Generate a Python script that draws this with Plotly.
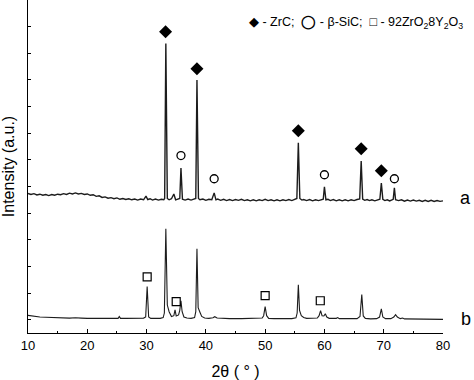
import plotly.graph_objects as go

# ---------------- data ----------------
two_theta_a = [
    10.0, 10.5, 11.0, 11.5, 12.0, 12.5, 13.0, 13.5, 14.0, 14.5, 15.0, 15.5, 16.0, 16.5,
    17.0, 17.5, 18.0, 18.5, 19.0, 19.5, 20.0, 20.5, 21.0, 21.5, 22.0, 22.5, 23.0, 23.5,
    24.0, 24.5, 25.0, 25.5, 26.0, 26.5, 27.0, 27.5, 28.0, 28.5, 29.0, 29.5, 29.9, 30.2,
    30.6, 31.0, 31.5, 32.0, 32.5, 32.9, 33.05, 33.25, 33.5, 33.8, 34.2, 34.6, 34.9, 35.3,
    35.6, 35.8, 36.05, 36.5, 37.0, 37.5, 38.0, 38.3, 38.5, 38.75, 39.0, 39.5, 40.0, 40.5,
    41.0, 41.4, 41.7, 42.0, 42.5, 43.0, 43.5, 44.0, 44.5, 45.0, 45.5, 46.0, 46.5, 47.0,
    47.5, 48.0, 48.5, 49.0, 49.5, 50.0, 50.5, 51.0, 51.5, 52.0, 52.5, 53.0, 53.5, 54.0,
    54.5, 55.0, 55.35, 55.6, 55.85, 56.2, 56.5, 57.0, 57.5, 58.0, 58.5, 59.0, 59.5, 59.8,
    60.0, 60.25, 60.6, 61.0, 61.5, 62.0, 62.5, 63.0, 63.5, 64.0, 64.5, 65.0, 65.5, 65.95,
    66.2, 66.45, 66.8, 67.2, 67.6, 68.0, 68.5, 69.0, 69.35, 69.6, 69.85, 70.2, 70.6, 71.0,
    71.4, 71.6, 71.8, 72.0, 72.5, 73.0, 73.5, 74.0, 74.5, 75.0, 75.5, 76.0, 76.5, 77.0,
    77.5, 78.0, 78.5, 79.0, 79.5, 80.0,
]
intensity_a = [
    4.74, 4.70, 4.73, 4.68, 4.71, 4.67, 4.70, 4.66, 4.70, 4.67, 4.71, 4.69, 4.73, 4.70,
    4.75, 4.72, 4.76, 4.72, 4.74, 4.70, 4.72, 4.67, 4.69, 4.63, 4.65, 4.59, 4.61, 4.56,
    4.58, 4.54, 4.57, 4.52, 4.55, 4.51, 4.54, 4.50, 4.53, 4.49, 4.53, 4.50, 4.64, 4.51,
    4.54, 4.49, 4.53, 4.49, 4.52, 4.50, 4.55, 10.37, 4.55, 4.50, 4.54, 4.72, 4.50, 4.53,
    4.55, 5.69, 4.52, 4.49, 4.53, 4.49, 4.52, 4.55, 9.00, 4.55, 4.50, 4.53, 4.48, 4.52,
    4.50, 4.76, 4.50, 4.53, 4.48, 4.52, 4.47, 4.51, 4.47, 4.51, 4.48, 4.52, 4.47, 4.50,
    4.46, 4.50, 4.46, 4.50, 4.47, 4.52, 4.47, 4.50, 4.46, 4.50, 4.46, 4.50, 4.47, 4.51,
    4.47, 4.50, 4.55, 6.64, 4.55, 4.49, 4.51, 4.47, 4.51, 4.46, 4.50, 4.47, 4.50, 4.52,
    4.99, 4.50, 4.52, 4.47, 4.51, 4.46, 4.50, 4.46, 4.50, 4.46, 4.50, 4.47, 4.51, 4.53,
    5.96, 4.53, 4.48, 4.51, 4.47, 4.50, 4.46, 4.50, 4.52, 5.13, 4.52, 4.47, 4.50, 4.46,
    4.50, 4.52, 4.95, 4.50, 4.47, 4.50, 4.45, 4.49, 4.45, 4.49, 4.45, 4.48, 4.44, 4.48,
    4.44, 4.48, 4.44, 4.47, 4.44, 4.46,
]

two_theta_b = [
    10.0, 10.5, 11.0, 12.0, 13.0, 14.0, 15.0, 16.0, 17.0, 18.0, 18.3, 19.0, 20.0, 21.0,
    22.0, 23.0, 24.0, 25.2, 25.4, 25.6, 26.5, 27.5, 28.5, 29.5, 29.85, 30.1, 30.35, 30.7,
    31.5, 32.3, 32.8, 33.0, 33.25, 33.5, 33.8, 34.2, 34.6, 34.8, 35.0, 35.4, 35.6, 35.8,
    36.0, 36.3, 36.8, 37.5, 38.1, 38.3, 38.5, 38.7, 39.0, 39.3, 39.8, 40.5, 41.2, 41.5,
    41.9, 42.5, 44.0, 46.0, 47.0, 48.0, 49.5, 49.75, 50.0, 50.25, 50.6, 51.5, 53.0, 54.5,
    55.2, 55.4, 55.6, 55.8, 56.1, 56.5, 57.0, 58.0, 58.8, 59.1, 59.35, 59.6, 59.9, 60.15,
    60.4, 60.8, 61.5, 62.0, 62.25, 62.5, 63.5, 64.5, 65.5, 66.0, 66.3, 66.55, 66.9, 67.8,
    68.8, 69.3, 69.6, 69.85, 70.3, 71.2, 71.7, 72.0, 72.3, 72.8, 73.2, 73.5, 75.0, 77.0,
    78.5, 80.0,
]
intensity_b = [
    0.16, 0.14, 0.12, 0.10, 0.09, 0.08, 0.07, 0.07, 0.06, 0.07, 0.06, 0.06, 0.05, 0.05,
    0.05, 0.05, 0.05, 0.05, 0.12, 0.05, 0.05, 0.05, 0.05, 0.06, 0.10, 1.24, 0.10, 0.05,
    0.05, 0.05, 0.08, 0.25, 3.41, 0.55, 0.30, 0.12, 0.15, 0.37, 0.14, 0.18, 0.35, 0.71,
    0.30, 0.10, 0.06, 0.05, 0.08, 0.30, 2.66, 0.45, 0.28, 0.12, 0.06, 0.05, 0.07, 0.11,
    0.06, 0.05, 0.04, 0.04, 0.05, 0.04, 0.06, 0.15, 0.49, 0.15, 0.05, 0.04, 0.04, 0.04,
    0.07, 0.25, 1.31, 0.35, 0.15, 0.08, 0.05, 0.04, 0.06, 0.15, 0.34, 0.15, 0.14, 0.22,
    0.10, 0.05, 0.04, 0.05, 0.08, 0.04, 0.04, 0.03, 0.04, 0.12, 0.94, 0.14, 0.05, 0.03,
    0.04, 0.10, 0.41, 0.10, 0.04, 0.04, 0.10, 0.19, 0.10, 0.04, 0.06, 0.03, 0.03, 0.02,
    0.02, 0.01,
]

# phase markers
zrc_x = [33.2, 38.5, 55.6, 66.2, 69.6]
zrc_y = [10.81, 9.42, 7.09, 6.42, 5.59]
sic_x = [35.8, 41.4, 60.0, 71.8]
sic_y = [6.16, 5.29, 5.44, 5.29]
zro2_x = [30.1, 35.0, 50.0, 59.3]
zro2_y = [1.61, 0.68, 0.90, 0.71]

curve_labels = ["a", "b"]
curve_label_y = [4.58, 0.04]

x_ticks = [10, 20, 30, 40, 50, 60, 70, 80]
y_ticks = list(range(0, 13))

# ---------------- figure ----------------
line_col = "#1c1c1c"
fig = go.Figure()
fig.add_trace(go.Scatter(x=two_theta_a, y=intensity_a, mode="lines",
                         line=dict(color=line_col, width=1.4), showlegend=False))
fig.add_trace(go.Scatter(x=two_theta_b, y=intensity_b, mode="lines",
                         line=dict(color=line_col, width=1.1), showlegend=False))
fig.add_trace(go.Scatter(x=zrc_x, y=zrc_y, mode="markers",
                         marker=dict(symbol="diamond", size=10, color="black"),
                         showlegend=False))
fig.add_trace(go.Scatter(x=sic_x, y=sic_y, mode="markers",
                         marker=dict(symbol="circle-open", size=8, color="black",
                                     line=dict(width=1.3)),
                         showlegend=False))
fig.add_trace(go.Scatter(x=zro2_x, y=zro2_y, mode="markers",
                         marker=dict(symbol="square-open", size=8, color="black",
                                     line=dict(width=1.2)),
                         showlegend=False))

font_family = "Liberation Sans, Arial, sans-serif"
for lab, ly in zip(curve_labels, curve_label_y):
    fig.add_annotation(x=1.055, xref="paper", y=ly, yref="y", text=lab,
                       showarrow=False, xanchor="center", yanchor="middle",
                       font=dict(size=18, color="black", family=font_family))

fig.add_annotation(
    x=1.053, xref="paper", y=0.932, yref="paper", xanchor="right", yanchor="middle",
    showarrow=False,
    text=("◆ - ZrC;  <b>◯</b> - β-SiC;  "
          "□ - 92ZrO<sub>2</sub>8Y<sub>2</sub>O<sub>3</sub>"),
    font=dict(size=12.5, color="black", family=font_family),
)

fig.update_layout(
    width=474, height=380,
    margin=dict(l=28, r=31, t=0, b=47),
    paper_bgcolor="white", plot_bgcolor="white",
    font=dict(family=font_family, color="black"),
    xaxis=dict(
        range=[10, 80], tickvals=x_ticks, ticks="inside", ticklen=4, tickwidth=1,
        tickcolor="black", showline=True, linecolor="black", linewidth=1,
        showgrid=False, zeroline=False, tickfont=dict(size=13), automargin=False,
        minor=dict(dtick=5, ticks="inside", ticklen=2, tickcolor="black"),
        title=dict(text="2θ ( ° )", font=dict(size=16), standoff=16),
    ),
    yaxis=dict(
        range=[-0.5, 12], tickvals=y_ticks, ticks="inside", ticklen=3, tickwidth=1,
        tickcolor="black", showline=True, linecolor="black", linewidth=1,
        showgrid=False, zeroline=False, showticklabels=False, automargin=False,
        title=dict(text="Intensity (a.u.)", font=dict(size=16), standoff=8),
    ),
)

fig.write_html("out.html", config={"displayModeBar": False},
               post_script="document.body.style.margin='0';document.body.style.overflow='hidden';")
